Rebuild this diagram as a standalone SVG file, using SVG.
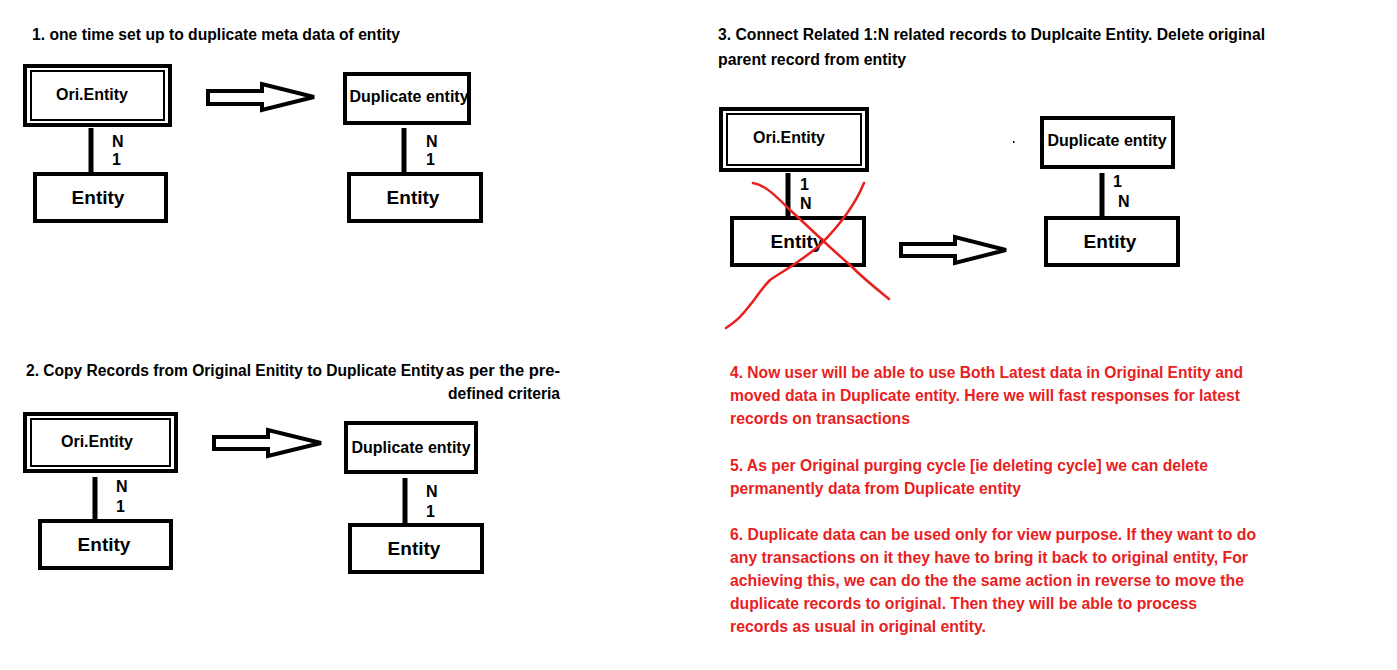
<svg xmlns="http://www.w3.org/2000/svg" width="1397" height="670" viewBox="0 0 1397 670">
<style>
text{font-family:"Liberation Sans",Arial,sans-serif;font-weight:bold;font-size:16px;fill:#000}
.red{fill:#e8211f}
.lbl{text-anchor:middle}
.ent{font-size:19px;text-anchor:middle}
.box{fill:#fff;stroke:#000;stroke-width:4}
.inner{fill:none;stroke:#000;stroke-width:2}
.ln{stroke:#000;stroke-width:5}
.arr{fill:#fff;stroke:#000;stroke-width:4;stroke-linejoin:miter}
.x{fill:none;stroke:#e8211f;stroke-width:2.5;stroke-linecap:round}
</style>
<rect width="1397" height="670" fill="#fff"/>
<g id="titles">
<text x="32" y="40" textLength="368" lengthAdjust="spacingAndGlyphs">1. one time set up to duplicate meta data of entity</text>
<text x="26" y="376" textLength="418" lengthAdjust="spacingAndGlyphs">2. Copy Records from Original Enitity to Duplicate Entity</text>
<text x="446" y="376" textLength="114" lengthAdjust="spacingAndGlyphs">as per the pre-</text>
<text x="448" y="399" textLength="112" lengthAdjust="spacingAndGlyphs">defined criteria</text>
<text x="718" y="40" textLength="547" lengthAdjust="spacingAndGlyphs">3. Connect Related 1:N related records to Duplcaite Entity. Delete original</text>
<text x="718" y="65" textLength="188" lengthAdjust="spacingAndGlyphs">parent record from entity</text>
</g>
<g id="notes">
<text class="red" x="730" y="378" textLength="513" lengthAdjust="spacingAndGlyphs">4. Now user will be able to use Both Latest data in Original Entity and</text>
<text class="red" x="730" y="401" textLength="510" lengthAdjust="spacingAndGlyphs">moved data in Duplicate entity. Here we will fast responses for latest</text>
<text class="red" x="730" y="424" textLength="180" lengthAdjust="spacingAndGlyphs">records on transactions</text>
<text class="red" x="730" y="471" textLength="478" lengthAdjust="spacingAndGlyphs">5. As per Original purging cycle [ie deleting cycle] we can delete</text>
<text class="red" x="730" y="494" textLength="291" lengthAdjust="spacingAndGlyphs">permanently data from Duplicate entity</text>
<text class="red" x="730" y="540" textLength="526" lengthAdjust="spacingAndGlyphs">6. Duplicate data can be used only for view purpose. If they want to do</text>
<text class="red" x="730" y="563" textLength="518" lengthAdjust="spacingAndGlyphs">any transactions on it they have to bring it back to original entity, For</text>
<text class="red" x="730" y="586" textLength="514" lengthAdjust="spacingAndGlyphs">achieving this, we can do the the same action in reverse to move the</text>
<text class="red" x="730" y="609" textLength="467" lengthAdjust="spacingAndGlyphs">duplicate records to original. Then they will be able to process</text>
<text class="red" x="730" y="632" textLength="256" lengthAdjust="spacingAndGlyphs">records as usual in original entity.</text>
</g>
<g id="connectors">
<line class="ln" x1="91" y1="128" x2="91" y2="173"/>
<line class="ln" x1="404" y1="128" x2="404" y2="173"/>
<line class="ln" x1="95" y1="477" x2="95" y2="520"/>
<line class="ln" x1="405" y1="478" x2="405" y2="524"/>
<line class="ln" x1="788" y1="173" x2="788" y2="217"/>
<line class="ln" x1="1102" y1="173" x2="1102" y2="217"/>
<polygon class="arr" points="208,91 262,91 262,84 314,97 262,110 262,104 208,104"/>
<polygon class="arr" points="214,437 268,437 268,430 321,443 268,456 268,449 214,449"/>
<polygon class="arr" points="901,244 955,244 955,237 1006,250 955,263 955,256 901,256"/>
<text x="112" y="147">N</text><text x="112" y="165">1</text>
<text x="426" y="147">N</text><text x="426" y="165">1</text>
<text x="116" y="492">N</text><text x="116" y="512">1</text>
<text x="426" y="497">N</text><text x="426" y="517">1</text>
<text x="800" y="190">1</text><text x="800" y="209">N</text>
<text x="1113" y="187">1</text><text x="1118" y="207">N</text>
</g>
<g id="n1-ori"><rect class="box" x="25" y="66" width="145" height="59"/><rect class="inner" x="31" y="71" width="133" height="49"/><text class="lbl" x="92" y="100">Ori.Entity</text></g>
<g id="n1-dup"><rect class="box" x="345" y="74" width="124" height="49"/><text class="lbl" x="409" y="102">Duplicate entity</text></g>
<g id="n1-ent"><rect class="box" x="35" y="174" width="131" height="47"/><text class="ent" x="98" y="204">Entity</text></g>
<g id="n1-ent2"><rect class="box" x="349" y="174" width="132" height="47"/><text class="ent" x="413" y="204">Entity</text></g>
<g id="n2-ori"><rect class="box" x="25" y="414" width="151" height="57"/><rect class="inner" x="31" y="419" width="139" height="47"/><text class="lbl" x="97" y="447">Ori.Entity</text></g>
<g id="n2-dup"><rect class="box" x="346" y="423" width="130" height="49"/><text class="lbl" x="411" y="453">Duplicate entity</text></g>
<g id="n2-ent"><rect class="box" x="40" y="521" width="131" height="47"/><text class="ent" x="104" y="551">Entity</text></g>
<g id="n2-ent2"><rect class="box" x="350" y="525" width="132" height="47"/><text class="ent" x="414" y="555">Entity</text></g>
<g id="n3-ori"><rect class="box" x="721" y="109" width="146" height="61"/><rect class="inner" x="727" y="114" width="134" height="51"/><text class="lbl" x="789" y="143">Ori.Entity</text></g>
<g id="n3-dup"><rect class="box" x="1042" y="118" width="131" height="49"/><text class="lbl" x="1107" y="146">Duplicate entity</text></g>
<g id="n3-ent"><rect class="box" x="732" y="218" width="132" height="47"/><text class="ent" x="797" y="248">Entity</text></g>
<g id="n3-ent2"><rect class="box" x="1046" y="218" width="132" height="47"/><text class="ent" x="1110" y="248">Entity</text></g>
<rect x="1013" y="141" width="1.5" height="2" fill="#000"/>
<g id="cross">
<path class="x" d="M753,183 C765,185 775,195 790,210 C810,228 830,248 850,265 C865,280 878,290 889,299"/>
<path class="x" d="M864,183 C855,205 840,225 820,245 C800,262 785,270 770,280 C760,290 755,300 750,305 C740,318 735,322 726,328"/>
</g>
</svg>
